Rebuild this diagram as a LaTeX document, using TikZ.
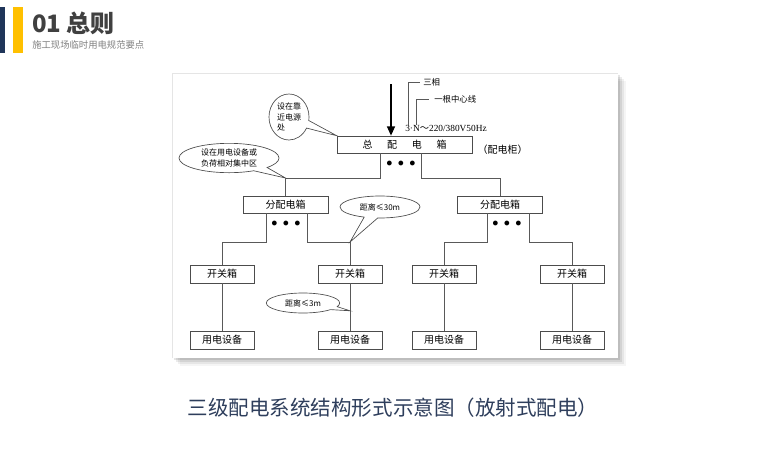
\documentclass[tikz,border=0pt]{standalone}
\usepackage{fontspec}
\setmainfont{Noto Sans CJK SC}
\newfontfamily\latinserif{Liberation Serif}
\newfontfamily\cjkwave{Noto Sans CJK SC}
\usetikzlibrary{arrows.meta,positioning,calc,shapes.callouts}
\definecolor{headnavy}{HTML}{1F3559}
\definecolor{headyellow}{HTML}{FFC000}
\definecolor{headgray}{HTML}{404040}
\definecolor{subgray}{HTML}{808080}
\definecolor{captionblue}{HTML}{2E3E5C}

\begin{document}
\begin{tikzpicture}[x=0.75pt, y=-0.75pt,
  box/.style={draw, line width=0.5pt, black!70, text=black, inner sep=0pt, font=\fontsize{7.5}{9}\selectfont},
  mainbox/.style={box, minimum width=101.25pt, minimum height=12.75pt},
  subbox/.style={box, minimum width=63.75pt, minimum height=12.75pt},
  endbox/.style={box, minimum width=48pt, minimum height=13.5pt},
  note/.style={ellipse callout, draw, line width=0.5pt, black!70, fill=white, text=black, inner sep=0pt, callout pointer arc=20, font=\fontsize{6}{8}\selectfont},
  tag/.style={inner sep=0pt, font=\fontsize{6.3}{8}\selectfont},
  wire/.style={black!65, line width=0.5pt},
  feed/.style={-{Triangle[length=7pt, width=6pt]}, line width=1.1pt},
  dots/.style={inner sep=0pt, font=\fontsize{9}{9}\selectfont}
]
  \useasboundingbox (0,0) rectangle (760,451);
  \fill[white] (0,0) rectangle (760,451);

  % header
  \fill[headnavy] (0,7) rectangle (5,53);
  \fill[headyellow] (13,7) rectangle (23,53);
  \node[anchor=west, inner sep=0pt, text=headgray, font=\fontsize{18}{20}\selectfont\bfseries] (title) at (32,23) {01 总则};
  \node[anchor=west, inner sep=0pt, text=subgray, font=\fontsize{7}{8}\selectfont] (subtitle) at (32,45) {施工现场临时用电规范要点};

  % panel with shadow
  \foreach \o/\op in {8/0.04, 6/0.06, 4/0.08, 2/0.10}
    \fill[black, opacity=\op] (172+\o,73+\o) rectangle (618+\o,358+\o);
  \fill[white] (172,73) rectangle (618,358);
  \draw[black!10, line width=0.4pt] (172,358) -- (172,73) -- (618,73);

  % boxes
  \node[mainbox] (zong) at (404.5,144.5) {总\hspace{11pt}配\hspace{11pt}电\hspace{11pt}箱};
  \node[tag, anchor=west, font=\fontsize{7.5}{9}\selectfont] (gui) at ([shift={(5,5)}]zong.east) {（配电柜）};
  \node[subbox] (fenL) at (285.5,204.5) {分配电箱};
  \node[subbox] (fenR) at (500,204.5) {分配电箱};
  \node[endbox] (kg1) at (222,274) {开关箱};
  \node[endbox] (kg2) at (350,274) {开关箱};
  \node[endbox] (kg3) at (444,274) {开关箱};
  \node[endbox] (kg4) at (572,274) {开关箱};
  \node[endbox] (yd1) at (222,340) {用电设备};
  \node[endbox] (yd2) at (350,340) {用电设备};
  \node[endbox] (yd3) at (444,340) {用电设备};
  \node[endbox] (yd4) at (572,340) {用电设备};

  \node[dots] (dotsTop) at (401,164) {$\bullet\hspace{2pt}\bullet\hspace{2pt}\bullet$};
  \node[dots] (dotsL) at (286,224) {$\bullet\hspace{2pt}\bullet\hspace{2pt}\bullet$};
  \node[dots] (dotsR) at (507,224) {$\bullet\hspace{2pt}\bullet\hspace{2pt}\bullet$};

  % supply
  \node[anchor=south west, inner sep=0pt, font=\latinserif\fontsize{7}{8}\selectfont] (volt) at (405,132) {3·N{\cjkwave ～}220/380V50Hz};
  \node[tag, anchor=west] (sanxiang) at (423,82) {三相};
  \node[tag, anchor=west] (zhongxin) at (434,99) {一根中心线};
  \coordinate (feedtop) at (391,84);
  \draw[feed] (feedtop) -- (feedtop |- zong.north);
  \draw[wire] ([xshift=2.5pt]volt.north west) |- ([xshift=-2pt]sanxiang.west);
  \draw[wire] ([xshift=8.5pt]volt.north west) |- ([xshift=-4pt]zhongxin.west);

  % wiring
  \coordinate (jA) at (380,178);
  \coordinate (jB) at (421,178);
  \coordinate (jC) at (266,242);
  \coordinate (jD) at (307,242);
  \coordinate (jE) at (487,242);
  \coordinate (jF) at (529,242);
  \draw[wire] (zong.south -| jA) -- (jA) -| (fenL.north);
  \draw[wire] (zong.south -| jB) -- (jB) -| (fenR.north);
  \draw[wire] (fenL.south -| jC) -- (jC) -| (kg1.north);
  \draw[wire] (fenL.south -| jD) -- (jD) -| (kg2.north);
  \draw[wire] (fenR.south -| jE) -- (jE) -| (kg3.north);
  \draw[wire] (fenR.south -| jF) -- (jF) -| (kg4.north);
  \draw[wire] (kg1) -- (yd1);
  \draw[wire] (kg2) -- (yd2);
  \draw[wire] (kg3) -- (yd3);
  \draw[wire] (kg4) -- (yd4);
  \coordinate (jG) at ($(kg2.south)!0.58!(yd2.north)$);

  % callouts
  \node[note, minimum width=30pt, minimum height=34.5pt, align=left, callout absolute pointer={(zong.north west)}] (nearsrc) at (289,117) {设在靠\\近电源\\处};
  \node[note, minimum width=75pt, minimum height=22pt, align=left, callout absolute pointer={(fenL.north |- jA)}] (nearload) at (229,158) {设在用电设备或\\负荷相对集中区};
  \node[note, minimum width=60pt, minimum height=16.5pt, callout absolute pointer={(kg2.north |- jD)}] (dist30) at (380,207) {距离≤30m};
  \node[note, minimum width=55pt, minimum height=15pt, callout absolute pointer={(jG)}] (dist3) at (303,303) {距离≤3m};

  % caption
  \node[inner sep=0pt, text=captionblue, font=\fontsize{15.4}{18}\selectfont] (caption) at (393,408) {三级配电系统结构形式示意图（放射式配电）};
\end{tikzpicture}
\end{document}
